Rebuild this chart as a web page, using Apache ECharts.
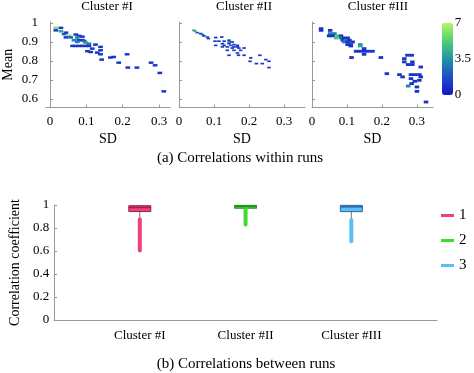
<!DOCTYPE html>
<html><head><meta charset="utf-8">
<script src="https://cdn.jsdelivr.net/npm/echarts@6/dist/echarts.min.js"></script>
<style>html,body{margin:0;padding:0;background:#fff}#c{width:474px;height:373px}</style>
</head><body><div id="c"></div>
<script>
// ---------- data ----------
const clusterNames = ['Cluster #I', 'Cluster #II', 'Cluster #III'];
const runNames = ['1', '2', '3'];
const sdTicks = [0, 0.1, 0.2, 0.3];
const meanTicks = [0.6, 0.7, 0.8, 0.9, 1];
const colorTicks = [0, 3.5, 7];
const clusterPos = [1, 2, 3];

// heat cells: [SD, Mean, count]
const cells1 = [
  [0.016,0.974,6],[0.030,0.974,1],[0.016,0.961,1],[0.030,0.956,4],[0.044,0.949,1],
  [0.039,0.941,2],[0.053,0.932,6],[0.044,0.924,1],[0.057,0.924,2],[0.071,0.939,1],
  [0.080,0.932,1],[0.089,0.928,1],[0.075,0.923,3],[0.089,0.910,1],[0.066,0.909,3],
  [0.080,0.909,1],[0.094,0.905,2],[0.075,0.900,3],[0.098,0.896,4],[0.107,0.891,3],
  [0.062,0.879,1],[0.071,0.879,1],[0.080,0.879,1],[0.089,0.879,1],[0.098,0.879,1],
  [0.107,0.879,1],[0.125,0.886,1],[0.139,0.874,1],[0.116,0.865,1],[0.103,0.851,1],
  [0.112,0.847,1],[0.139,0.856,1],[0.130,0.844,1],[0.139,0.835,1],[0.142,0.807,1],
  [0.166,0.818,1],[0.175,0.821,1],[0.189,0.791,1],[0.212,0.835,1],[0.214,0.765,1],
  [0.239,0.765,1],[0.278,0.791,1],[0.289,0.777,1],[0.302,0.737,1],[0.313,0.640,1]
];
const cells2 = [
  [0.043,0.961,3],[0.046,0.956,5],[0.052,0.949,2],[0.062,0.944,1],[0.067,0.939,3],
  [0.071,0.932,1],[0.081,0.926,2],[0.084,0.918,1],[0.105,0.923,1],[0.122,0.926,1],
  [0.143,0.909,1],[0.103,0.904,1],[0.114,0.904,1],[0.129,0.904,1],[0.143,0.900,3],
  [0.152,0.900,1],[0.124,0.891,1],[0.143,0.891,1],[0.157,0.886,1],[0.105,0.882,1],
  [0.129,0.882,1],[0.148,0.882,2],[0.167,0.882,1],[0.124,0.874,1],[0.138,0.874,1],
  [0.157,0.874,1],[0.167,0.874,1],[0.152,0.868,1],[0.171,0.868,1],[0.186,0.868,1],
  [0.138,0.856,1],[0.157,0.856,1],[0.176,0.856,1],[0.167,0.842,1],[0.143,0.830,1],
  [0.170,0.830,1],[0.186,0.830,1],[0.231,0.830,1],[0.205,0.816,1],[0.248,0.807,1],
  [0.203,0.798,1],[0.257,0.798,1],[0.221,0.786,1],[0.238,0.786,1],[0.257,0.765,1]
];
const cells3 = [
  [0.026,0.970,1],[0.026,0.961,1],[0.052,0.961,1],[0.052,0.944,3],[0.064,0.944,3],
  [0.049,0.932,1],[0.059,0.932,1],[0.073,0.932,5],[0.083,0.932,1],[0.069,0.921,5],
  [0.083,0.921,3],[0.092,0.921,1],[0.102,0.921,1],[0.088,0.909,1],[0.097,0.909,3],
  [0.107,0.909,1],[0.092,0.900,3],[0.102,0.900,1],[0.116,0.900,1],[0.102,0.886,1],
  [0.111,0.886,1],[0.138,0.886,3],[0.111,0.879,1],[0.138,0.879,4],
  [0.126,0.851,1],[0.137,0.851,1],[0.149,0.851,1],[0.161,0.851,1],[0.173,0.851,1],
  [0.149,0.865,1],[0.149,0.835,1],[0.113,0.818,1],[0.197,0.818,1],
  [0.273,0.830,1],[0.285,0.830,1],[0.264,0.812,1],[0.264,0.795,1],[0.275,0.781,1],
  [0.287,0.781,1],[0.287,0.795,1],[0.311,0.768,1],[0.214,0.733,1],[0.250,0.728,1],
  [0.259,0.716,1],[0.283,0.728,1],[0.294,0.728,1],[0.307,0.728,1],[0.311,0.716,1],
  [0.283,0.707,1],[0.294,0.693,1],[0.307,0.698,1],[0.275,0.668,3],[0.285,0.681,1],
  [0.300,0.663,1],[0.300,0.640,1],[0.326,0.584,1]
];

// correlation box plots (per cluster)
const boxLow  = [0.885, 0.965, 0.878];
const boxQ1   = [0.943, 0.972, 0.942];
const boxMed  = [0.979, 0.988, 0.984];
const boxQ3   = [0.994, 0.997, 0.997];
const boxHigh = [0.995, 1.000, 1.000];
const outLow  = [0.605, 0.830, 0.685];
const outHigh = [0.875, 0.965, 0.870];

// ---------- styles ----------
const FONT = '"Liberation Serif", "DejaVu Serif", serif';
const runColors = ['#ef3f7e', '#3fdc2c', '#5cbff3'];
const boxEdges = ['#9b1f4f', '#1f8f1f', '#2a64a8'];
const axisGray = '#999';

function cellRenderer(w, h) {
  return function (params, api) {
    const c = api.coord([api.value(0), api.value(1)]);
    const s = api.size([w, h]);
    return {
      type: 'rect',
      shape: { x: c[0] - s[0] / 2, y: c[1] - s[1] / 2, width: s[0], height: s[1] },
      style: { fill: api.visual('color') }
    };
  };
}

const panelGrids = [
  { left: 45, top: 22, width: 125, height: 85.5 },
  { left: 179, top: 22, width: 126, height: 85.5 },
  { left: 312, top: 22, width: 121, height: 85.5 }
];
const panelX = [[-0.011, 0.33], [0, 0.36], [0, 0.346]];
const cellSize = [[0.013, 0.013], [0.010, 0.009], [0.013, 0.015]];
const panelCells = [cells1, cells2, cells3];

const grids = panelGrids.slice();
grids.push({ left: 45, top: 205, width: 392, height: 115 });   // 3: bottom
grids.push({ left: 442, top: 23, width: 11, height: 72 });     // 4: colour bar axis

const xAxes = [], yAxes = [], series = [];
for (let i = 0; i < 3; i++) {
  xAxes.push({
    type: 'value', gridIndex: i, min: panelX[i][0], max: panelX[i][1],
    axisLine: { lineStyle: { color: axisGray } },
    axisTick: { inside: true, length: 3, customValues: sdTicks, lineStyle: { color: axisGray } },
    axisLabel: { customValues: sdTicks, color: '#000', fontSize: 13, fontFamily: FONT, margin: 8 },
    splitLine: { show: false },
    name: 'SD', nameLocation: 'middle', nameGap: 25,
    nameTextStyle: { color: '#000', fontSize: 14, fontFamily: FONT }
  });
  yAxes.push({
    type: 'value', gridIndex: i, min: 0.555, max: 1.005,
    axisLine: { show: true, lineStyle: { color: axisGray } },
    axisTick: { show: true, inside: true, length: 3, customValues: meanTicks, lineStyle: { color: axisGray } },
    axisLabel: { show: i === 0, customValues: meanTicks, color: '#000', fontSize: 13, fontFamily: FONT, margin: 8 },
    splitLine: { show: false },
    name: i === 0 ? 'Mean' : '', nameLocation: 'middle', nameGap: 31,
    nameTextStyle: { color: '#000', fontSize: 14, fontFamily: FONT }
  });
  series.push({
    type: 'custom', xAxisIndex: i, yAxisIndex: i,
    renderItem: cellRenderer(cellSize[i][0], cellSize[i][1]),
    encode: { x: 0, y: 1 },
    data: panelCells[i],
    silent: true
  });
}

// bottom axes
xAxes.push({
  type: 'value', gridIndex: 3, min: 0.19, max: 3.81,
  axisLine: { lineStyle: { color: axisGray } },
  axisTick: { show: false },
  axisLabel: { customValues: clusterPos, formatter: v => clusterNames[Math.round(v) - 1],
               color: '#000', fontSize: 13, fontFamily: FONT, margin: 9 },
  splitLine: { show: false }
});
yAxes.push({
  type: 'value', gridIndex: 3, min: 0, max: 1, interval: 0.2,
  axisLine: { show: true, lineStyle: { color: axisGray } },
  axisTick: { show: true, inside: true, length: 3, lineStyle: { color: axisGray } },
  axisLabel: { color: '#000', fontSize: 13, fontFamily: FONT, margin: 5 },
  splitLine: { show: false },
  name: 'Correlation coefficient', nameLocation: 'middle', nameGap: 31,
  nameTextStyle: { color: '#000', fontSize: 14, fontFamily: FONT }
});
// colour bar axis
xAxes.push({ type: 'value', gridIndex: 4, show: false, min: 0, max: 1 });
yAxes.push({
  type: 'value', gridIndex: 4, min: 0, max: 7, position: 'right',
  axisLine: { show: false }, axisTick: { show: false }, splitLine: { show: false },
  axisLabel: { customValues: colorTicks, color: '#000', fontSize: 13, fontFamily: FONT, margin: 4 }
});

// box series
series.push({
  type: 'custom', xAxisIndex: 3, yAxisIndex: 3, silent: true, z: 3,
  encode: { x: 0, y: [1, 2, 3, 4, 5] },
  data: clusterPos.map((p, i) => [p, boxLow[i], boxQ1[i], boxMed[i], boxQ3[i], boxHigh[i]]),
  renderItem: function (params, api) {
    const i = params.dataIndex;
    const x = api.value(0);
    const pL = api.coord([x, api.value(1)]);
    const p1 = api.coord([x, api.value(2)]);
    const pM = api.coord([x, api.value(3)]);
    const p3 = api.coord([x, api.value(4)]);
    const pH = api.coord([x, api.value(5)]);
    const w = 22;
    return {
      type: 'group',
      children: [
        { type: 'line', shape: { x1: pL[0], y1: pL[1], x2: p1[0], y2: p1[1] }, style: { stroke: '#777', lineWidth: 1 } },
        { type: 'line', shape: { x1: pH[0], y1: pH[1], x2: p3[0], y2: p3[1] }, style: { stroke: '#777', lineWidth: 1 } },
        { type: 'rect', shape: { x: p3[0] - w / 2, y: p3[1], width: w, height: p1[1] - p3[1] },
          style: { fill: runColors[i], stroke: boxEdges[i], lineWidth: 1 } },
        { type: 'line', shape: { x1: pM[0] - w / 2, y1: pM[1], x2: pM[0] + w / 2, y2: pM[1] },
          style: { stroke: boxEdges[i], lineWidth: 1.5 } }
      ]
    };
  }
});
// outlier runs
runNames.forEach((n, i) => {
  series.push({
    type: 'line', name: n, xAxisIndex: 3, yAxisIndex: 3, z: 4,
    symbol: 'none', silent: true,
    data: [[clusterPos[i], outLow[i]], [clusterPos[i], outHigh[i]]],
    lineStyle: { width: 4, cap: 'round', color: runColors[i] },
    itemStyle: { color: runColors[i] }
  });
});

const titleStyle = { color: '#000', fontSize: 13, fontWeight: 'normal', fontFamily: FONT };
const captionStyle = { color: '#000', fontSize: 15, fontWeight: 'normal', fontFamily: FONT };

const option = {
  animation: false,
  backgroundColor: '#fff',
  title: [
    { text: clusterNames[0], left: 107, top: 0, textAlign: 'center', padding: 0, textStyle: titleStyle },
    { text: clusterNames[1], left: 244, top: 0, textAlign: 'center', padding: 0, textStyle: titleStyle },
    { text: clusterNames[2], left: 378, top: 0, textAlign: 'center', padding: 0, textStyle: titleStyle },
    { text: '(a) Correlations within runs', left: 240, top: 151, textAlign: 'center', padding: 0, textStyle: captionStyle },
    { text: '(b) Correlations between runs', left: 246, top: 357, textAlign: 'center', padding: 0, textStyle: captionStyle }
  ],
  grid: grids,
  xAxis: xAxes,
  yAxis: yAxes,
  visualMap: {
    type: 'continuous', min: 0, max: 7, dimension: 2, seriesIndex: [0, 1, 2],
    left: 442, top: 23, itemWidth: 11, itemHeight: 72, padding: 0,
    calculable: false, hoverLink: false,
    inRange: { color: ['#1414c8', '#1f4fc4', '#2093a8', '#4fd073', '#b4f465'] }
  },
  legend: {
    data: runNames, orient: 'vertical', left: 441, top: 208,
    icon: 'rect', itemWidth: 13, itemHeight: 3, itemGap: 10, padding: 0,
    textStyle: { color: '#000', fontSize: 15, fontFamily: FONT }
  },
  series: series
};

const chart = echarts.init(document.getElementById('c'), null, { renderer: 'canvas' });
chart.setOption(option);
</script>
</body></html>
